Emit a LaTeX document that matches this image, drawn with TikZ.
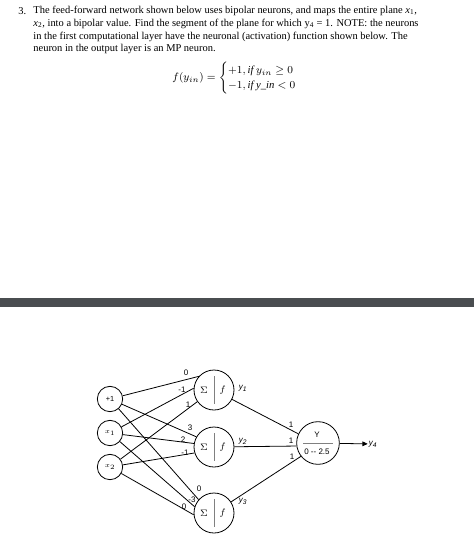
\documentclass[tikz,border=0pt]{standalone}
\usepackage{amsmath,amssymb}
\usepackage{fontspec}
\setmainfont{Liberation Serif}
\newfontfamily\netfont{Liberation Sans}
\usepackage{tikz}
\usetikzlibrary{arrows.meta}
\definecolor{barcol}{RGB}{74,77,80}
\tikzset{every picture/.style={x=0.75pt, y=-0.75pt, line width=0.6pt}}
\tikzset{
  inp/.style={draw, circle, inner sep=0pt, minimum size=19pt, font=\netfont\fontsize{5.5}{6}\selectfont},
  neuron/.style={draw, circle, inner sep=0pt, minimum size=30pt},
  outn/.style={draw, circle, inner sep=0pt, minimum size=32pt},
  wt/.style={inner sep=0.5pt, font=\netfont\fontsize{6}{7}\selectfont},
  ylab/.style={inner sep=0.5pt, font=\netfont\itshape\fontsize{6}{7}\selectfont},
  txt/.style={anchor=west, inner sep=0pt, font=\fontsize{7.85}{9}\selectfont}
}

\begin{document}
\begin{tikzpicture}
\useasboundingbox (0,0) rectangle (474,537);
% question text
\node[txt] (num) at (18,11) {3.};
\node[txt] (l1) at (33,11) {The feed-forward network shown below uses bipolar neurons, and maps the entire plane \textit{x}\textsubscript{1},};
\node[txt] (l2) at (33,24) {\textit{x}\textsubscript{2}, into a bipolar value. Find the segment of the plane for which y\textsubscript{4} = 1. NOTE: the neurons};
\node[txt] (l3) at (33,37) {in the first computational layer have the neuronal (activation) function shown below. The};
\node[txt] (l4) at (33,49) {neuron in the output layer is an MP neuron.};
\node[anchor=west, inner sep=0pt, font=\fontsize{8}{9}\selectfont] (fyin) at (172,78)
  {$f(y_{in}) = \begin{cases} +1, \mathit{if}\ y_{in} \geq 0\\ -1, \mathit{if}\ \mathit{y\_in} < 0\end{cases}$};
% separator bar
\fill[barcol] (0,298) rectangle (474,307);
% inputs
\node[inp] (b) at (110,399) {+1};
\node[inp] (x1) at (110,433) {$x_1$};
\node[inp] (x2) at (110,467) {$x_2$};
% hidden neurons
\foreach \n/\y in {1/390, 2/447, 3/513} {
  \node[neuron] (h\n) at (214,\y) {};
  \draw[gray] ([yshift=10.5pt]h\n.center) -- ([yshift=-10.5pt]h\n.center);
  \node[inner sep=0pt, font=\fontsize{7}{8}\selectfont] (s\n) at ([xshift=-7.5pt]h\n.center) {$\Sigma$};
  \node[inner sep=0pt, font=\fontsize{7}{8}\selectfont] (f\n) at ([xshift=6.5pt]h\n.center) {$f$};
}
% output neuron
\node[outn] (out) at (318,443) {};
\draw[gray] ([xshift=-11pt]out.center) -- ([xshift=11pt]out.center);
\node[wt] (yy) at (317,435) {Y};
\node[wt] (rng) at (317,452) {0 -- 2.5};
\node[ylab] (y4) at (373,444) {y\textsubscript{4}};
% weights
\foreach \nm/\x/\y/\t in {a1/186/373/0, a2/182/390/-1, a3/188/405/1,
                          b1/190/428/3, b2/183/440/2, b3/185/453/-1,
                          c1/199/489/0, c2/192/500/-3, c3/184/507/0,
                          d1/291/425/1, d2/291/441/1, d3/292/457/1} {
  \node[wt] (\nm) at (\x,\y) {\t};
}
\foreach \n/\y in {1/388, 2/441, 3/501} {
  \node[ylab] (y\n) at (243,\y) {y\textsubscript{\n}};
}
% connections
\foreach \s/\t/\a in {b/h1/138, x1/h1/175, x2/h1/215,
                      b/h2/150, x1/h2/170, x2/h2/197,
                      b/h3/139, x1/h3/162, x2/h3/185} {
  \draw (\s) -- (\t.\a);
}
\draw (h1) -- (out.155);
\draw (h2) -- (out.188);
\draw (h3) -- (out.218);
\draw[-{Triangle[length=4pt,width=3.5pt]}] (out) -- (y4);
\end{tikzpicture}
\end{document}
